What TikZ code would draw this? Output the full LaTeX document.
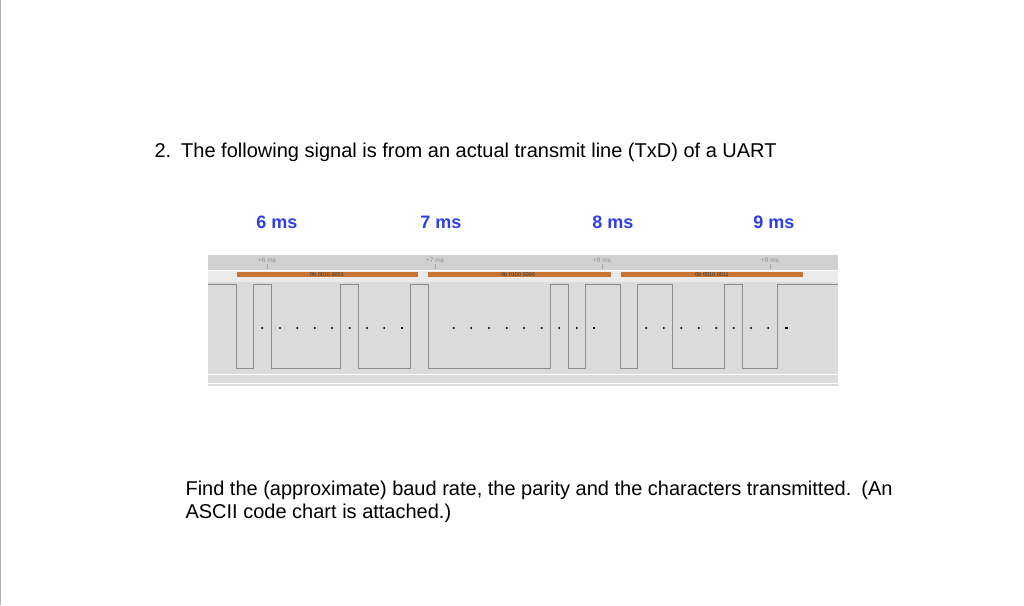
\documentclass[tikz,border=0pt]{standalone}
\usepackage{fontspec}
\setmainfont{Liberation Sans}
\definecolor{msblue}{HTML}{2E3FE8}
\definecolor{barc}{HTML}{C87533}
\begin{document}
\begin{tikzpicture}[x=1pt,y=-1pt,
  sig/.style={draw=black!45,line width=0.9pt},
  bar/.style={fill=barc,draw=none},
  dot/.style={circle,fill=black,inner sep=0pt,minimum size=2.2pt},
  bigdot/.style={fill=black,inner sep=0pt,minimum size=2.8pt},
  tick/.style={font=\fontsize{6.5}{6.5}\selectfont,text=black!45},
  blab/.style={font=\fontsize{5.5}{5.5}\selectfont,text=black!80},
  ms/.style={font=\fontsize{18}{18}\selectfont\bfseries,text=msblue}]
\useasboundingbox (0,0) rectangle (1024,605);
\fill[white] (0,0) rectangle (1024,605);
\draw[black!30,line width=1pt] (0.5,0) -- (0.5,605);
\node[anchor=base west,font=\fontsize{20}{20}\selectfont] (q) at (151,157) {2.\enspace The following signal is from an actual transmit line (TxD) of a UART};
\node[ms] (m6) at (277,222) {6 ms};
\node[ms] (m7) at (441,222) {7 ms};
\node[ms] (m8) at (613,222) {8 ms};
\node[ms] (m9) at (774,222) {9 ms};
% panel
\fill[black!14] (208,255) rectangle (838,386);
\fill[black!18] (208,255) rectangle (838,270);
\fill[black!8] (208,270) rectangle (838,282);
\draw[white,line width=0.8pt] (208,270.5) -- (838,270.5);
\draw[white,line width=0.6pt] (208,374.5) -- (838,374.5);
\draw[white,line width=0.6pt] (208,383) -- (838,383);
\foreach \x/\t in {267/+6,435/+7,602/+8,770/+9}{
  \node[tick] at (\x,260.5) {\t\ ms};
  \draw[black!35,line width=0.4pt] (\x,264) -- (\x,269);
}
\fill[bar] (236.7,271.5) rectangle (418.3,277);
\fill[bar] (428,271.5) rectangle (610.7,277);
\fill[bar] (620.7,271.5) rectangle (803,277);
\node[blab] (b1) at (327,274.3) {0b 0010 0001};
\node[blab] (b2) at (518,274.3) {0b 0100 0000};
\node[blab] (b3) at (712,274.3) {0b 0010 0011};
% signal
\draw[sig] (208,284) -- (236.7,284) -- (236.7,368) -- (253.7,368) -- (253.7,284) -- (271.3,284) -- (271.3,368)
 -- (340.7,368) -- (340.7,284) -- (358.3,284) -- (358.3,368) -- (410.7,368) -- (410.7,284) -- (428,284) -- (428,368)
 -- (550.7,368) -- (550.7,284) -- (568,284) -- (568,368) -- (585.7,368) -- (585.7,284) -- (620.3,284) -- (620.3,368)
 -- (637.7,368) -- (637.7,284) -- (672.7,284) -- (672.7,368) -- (724.7,368) -- (724.7,284) -- (742.7,284) -- (742.7,368)
 -- (777.7,368) -- (777.7,284) -- (838,284);
\foreach \x in {262.3,280,297.3,314.7,332,349.7,367,384.3,453.7,471.3,489,506.7,524,541.7,559.3,576.7,646.3,663.7,681.3,698.7,716.3,733.7,751,768.3}
  \node[dot] at (\x,328) {};
\foreach \x in {402,594,786.7} \node[bigdot] at (\x,328) {};
\node[anchor=base west,font=\fontsize{20}{20}\selectfont] (f1) at (182,495) {Find the (approximate) baud rate, the parity and the characters transmitted.\enspace (An};
\node[anchor=base west,font=\fontsize{20}{20}\selectfont] (f2) at (182,518) {ASCII code chart is attached.)};
\end{tikzpicture}
\end{document}
